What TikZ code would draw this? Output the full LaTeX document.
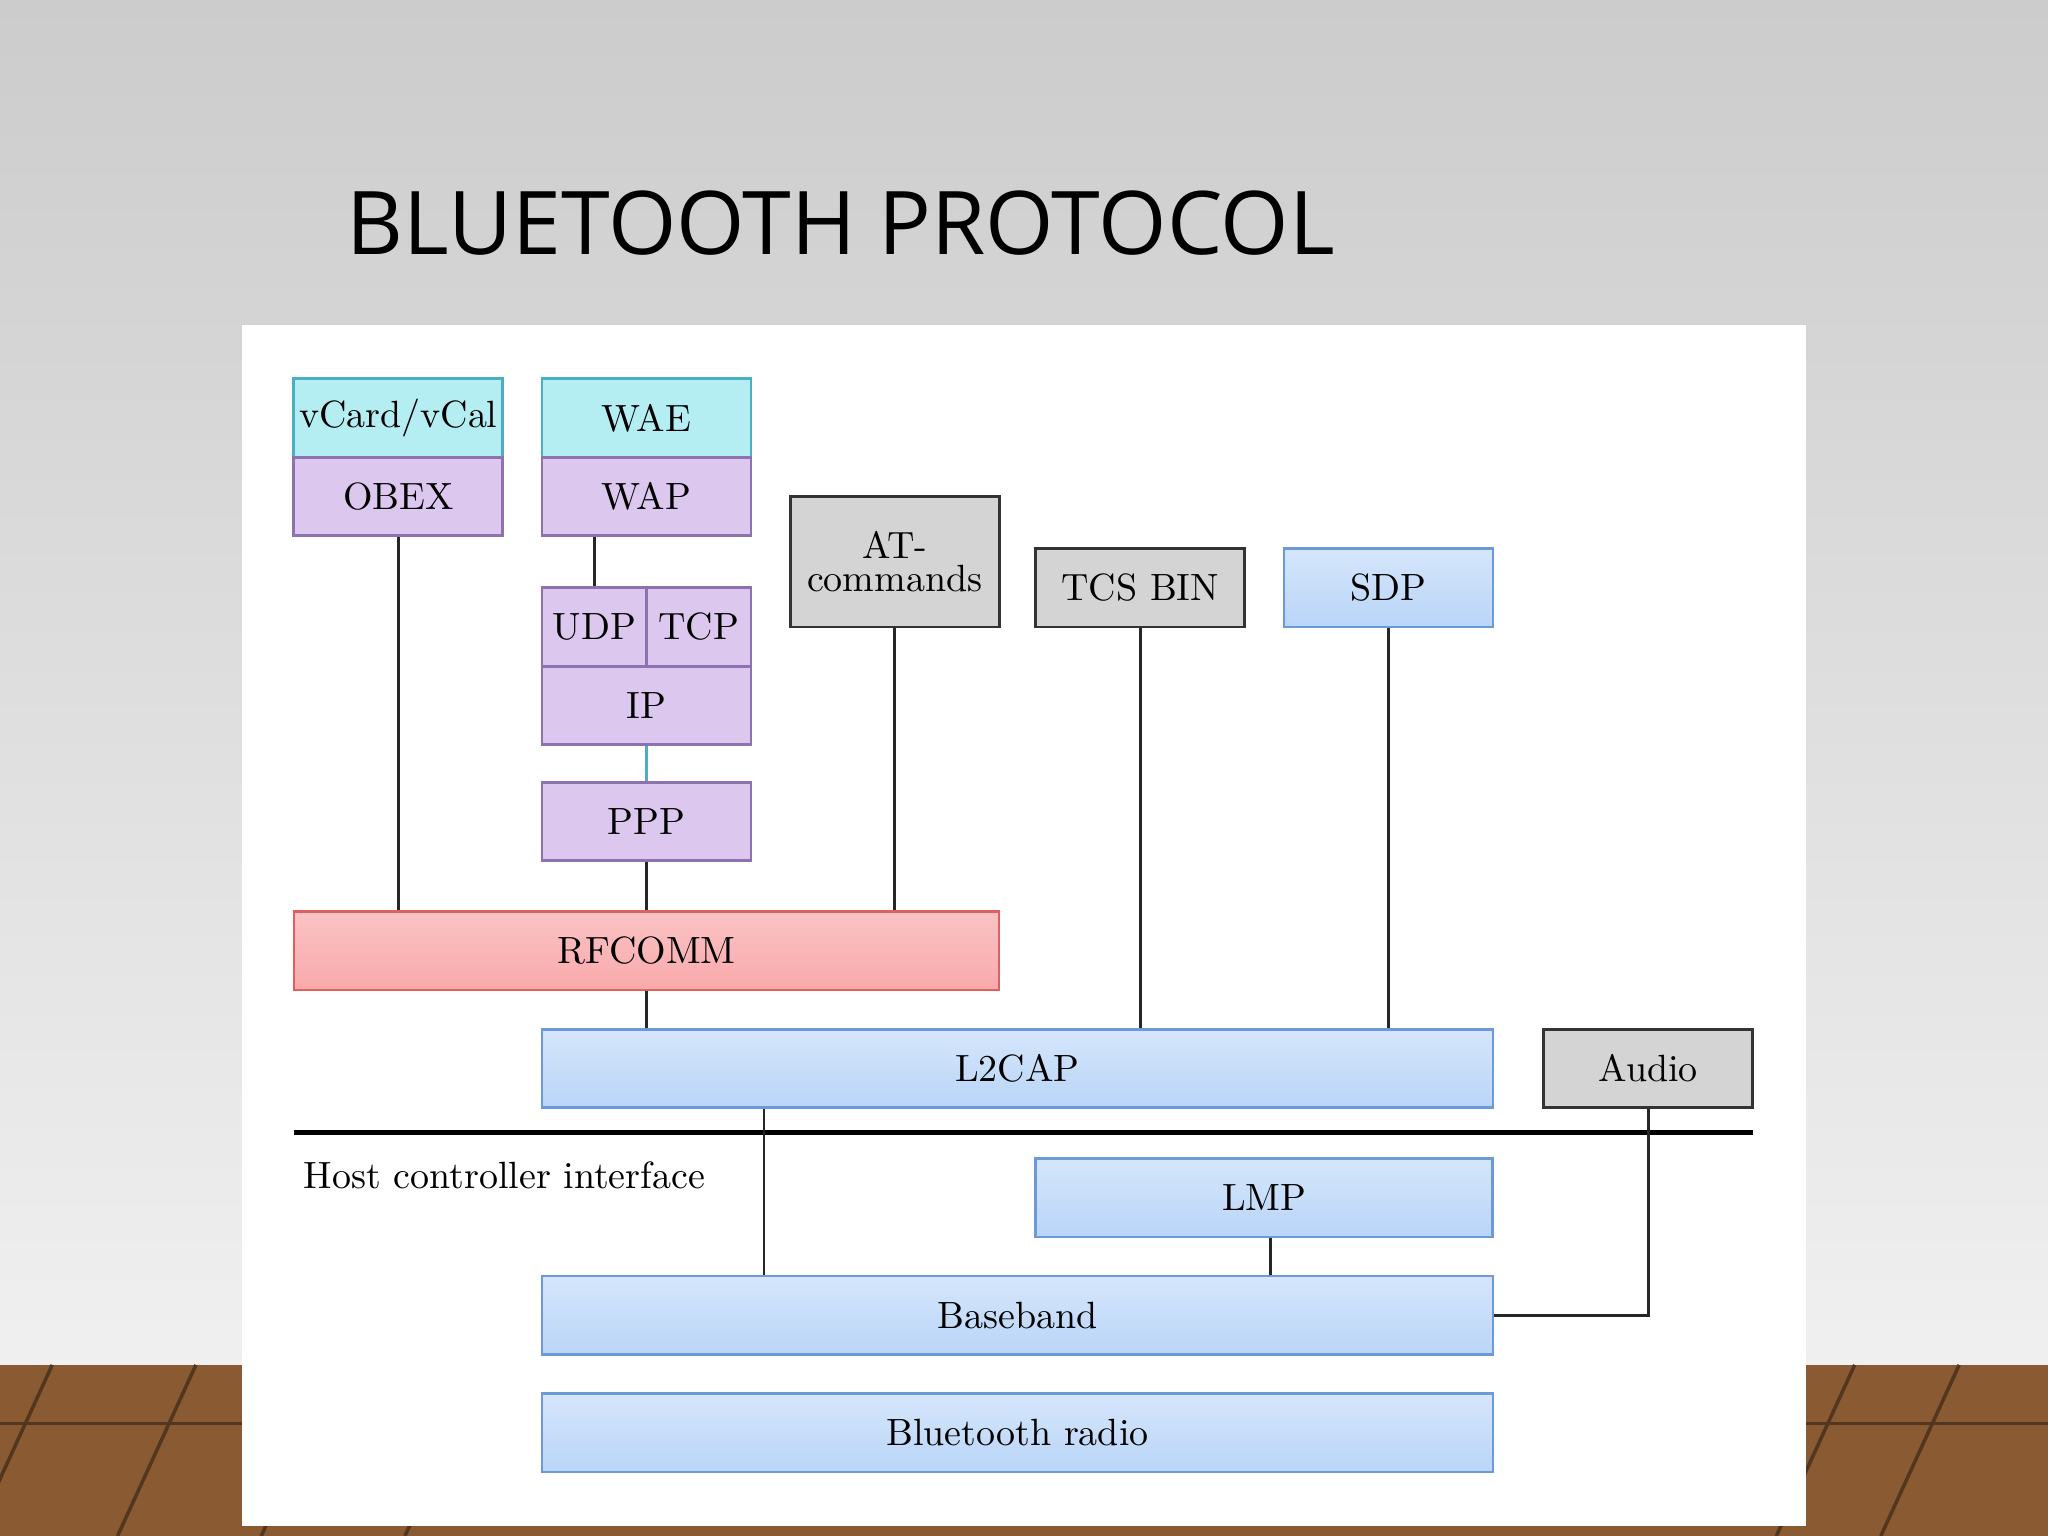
\documentclass[tikz,border=0pt]{standalone}
\usepackage{fontspec}
\newfontfamily\titlefont{Open Sans}
\usetikzlibrary{positioning}
\definecolor{cyanfill}{HTML}{B4EEF3}
\definecolor{cyanline}{HTML}{4AAFC0}
\definecolor{purpfill}{HTML}{DCC8EE}
\definecolor{purpline}{HTML}{8E72B0}
\definecolor{redfill}{HTML}{F9A9AB}
\definecolor{redline}{HTML}{E06060}
\definecolor{bluefill}{HTML}{B9D5F8}
\definecolor{blueline}{HTML}{6C9AD8}
\definecolor{grayfill}{HTML}{D4D4D4}
\definecolor{wood}{HTML}{8A5A32}
\tikzset{
  box/.style={draw, line width=0.8pt, inner sep=0pt, font=\fontsize{10.8}{12.5}\selectfont,
    minimum width=2.09cm, minimum height=0.784cm, align=center},
  cyanbox/.style={box, draw=cyanline, fill=cyanfill},
  purpbox/.style={box, draw=purpline, fill=purpfill},
  redbox/.style={box, draw=redline, top color=redfill!70, bottom color=redfill},
  bluebox/.style={box, draw=blueline, top color=bluefill!60, bottom color=bluefill},
  graybox/.style={box, draw=black!80, fill=grayfill},
  link/.style={line width=0.8pt, draw=black!85},
}
\begin{document}
\begin{tikzpicture}[x=0.01306cm, y=-0.01306cm]
\useasboundingbox (0,0) rectangle (1568,1176);
% slide background
\shade[top color=black!20, bottom color=black!6] (0,0) rectangle (1568,1045);
\fill[wood] (0,1045) rectangle (1568,1176);
\foreach \x in {40,150,260,370,1420,1500}
  \draw[wood!60!black, line width=1pt] (\x,1045) -- (\x-60,1176);
\draw[wood!60!black, line width=1pt] (0,1090) -- (1568,1090);
% white panel
\fill[white] (185,249) rectangle (1383,1168);
\node[anchor=base west, inner sep=0pt, font=\titlefont\fontsize{25}{30}\selectfont] (title) at (265,195) {BLUETOOTH PROTOCOL};
% boxes
\node[cyanbox] (vcard) at (305,320) {vCard/vCal};
\node[purpbox] (obex) at (305,380) {OBEX};
\node[cyanbox] (wae) at (495,320) {WAE};
\node[purpbox] (wap) at (495,380) {WAP};
\node[purpbox, minimum width=1.045cm] (udp) at (455,480) {UDP};
\node[purpbox, minimum width=1.045cm] (tcp) at (535,480) {TCP};
\node[purpbox] (ip) at (495,540) {IP};
\node[purpbox] (ppp) at (495,629) {PPP};
\node[graybox, minimum height=1.306cm] (at) at (685,430) {AT-\\[-3pt]commands};
\node[graybox] (tcs) at (873,450) {TCS BIN};
\node[bluebox] (sdp) at (1063,450) {SDP};
\node[redbox, minimum width=7.05cm] (rfcomm) at (495,728) {RFCOMM};
\node[bluebox, minimum width=9.51cm] (l2cap) at (779,818) {L2CAP};
\node[graybox] (audio) at (1262,818) {Audio};
\node[bluebox, minimum width=4.57cm] (lmp) at (968,917) {LMP};
\node[bluebox, minimum width=9.51cm] (baseband) at (779,1007) {Baseband};
\node[bluebox, minimum width=9.51cm] (radio) at (779,1097) {Bluetooth radio};
% host controller interface
\coordinate (hcil) at (225,867);
\coordinate (hcir) at (1342,867);
\draw[line width=1.2pt] (hcil) -- (hcir);
\node[anchor=north west, inner sep=0pt, font=\fontsize{10.8}{12.5}\selectfont] (hci) at (232,889) {Host controller interface};
% connectors
\draw[link] (obex.south) -- (obex.south |- rfcomm.north);
\draw[link] (wap.south -| udp) -- (udp.north);
\draw[cyanline, line width=0.8pt] (ip.south) -- (ppp.north);
\draw[link] (ppp.south) -- (ppp.south |- rfcomm.north);
\draw[link] (at.south) -- (at.south |- rfcomm.north);
\draw[link] (rfcomm.south) -- (rfcomm.south |- l2cap.north);
\draw[link] (tcs.south) -- (tcs.south |- l2cap.north);
\draw[link] (sdp.south) -- (sdp.south |- l2cap.north);
\draw[link] (l2cap.south -| 585,0) -- (baseband.north -| 585,0);
\draw[link] (lmp.south -| 973,0) -- (baseband.north -| 973,0);
\draw[link] (audio.south) |- (baseband.east);
\end{tikzpicture}
\end{document}
